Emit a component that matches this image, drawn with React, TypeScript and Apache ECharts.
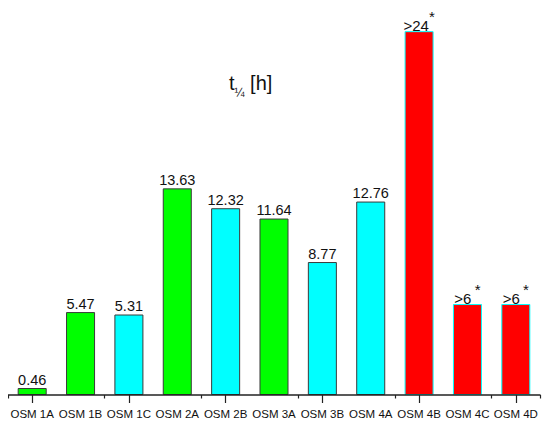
import React, { useEffect, useRef } from 'react'
import * as echarts from 'echarts'

const categories = ['OSM 1A', 'OSM 1B', 'OSM 1C', 'OSM 2A', 'OSM 2B', 'OSM 3A', 'OSM 3B', 'OSM 4A', 'OSM 4B', 'OSM 4C', 'OSM 4D']
const values = [0.46, 5.47, 5.31, 13.63, 12.32, 11.64, 8.77, 12.76, 24, 6, 6]
// value shown above bar; entries starting with '>' are lower bounds (marked with *)
const valueLabels = ['0.46', '5.47', '5.31', '13.63', '12.32', '11.64', '8.77', '12.76', '>24', '>6', '>6']
const groups = ['g', 'g', 'c', 'g', 'c', 'g', 'c', 'c', 'r', 'r', 'r']

const fillColors: Record<string, string> = { g: '#00ff00', c: '#00ffff', r: '#ff0000' }
const borderColors: Record<string, string> = { g: '#3a3a3a', c: '#3a3a3a', r: '#00ffff' }

const font = 'Arial, "Liberation Sans", sans-serif'
const gridBox = { left: 8, right: 10, top: 16, bottom: 36 }
const hiddenY = {
  type: 'value',
  max: 25,
  axisLine: { show: false },
  axisTick: { show: false },
  axisLabel: { show: false },
  splitLine: { show: false }
}

const mainOption = {
  animation: false,
  textStyle: { fontFamily: font },
  title: {
    text: '{t|t}{s|¼}{t| [h]}',
    left: 224,
    top: 68,
    textStyle: {
      fontWeight: 'normal',
      rich: {
        t: { fontSize: 20, color: '#111', fontWeight: 'normal', lineHeight: 26, verticalAlign: 'top' },
        s: { fontSize: 12, color: '#111', fontWeight: 'normal', lineHeight: 14, verticalAlign: 'bottom' }
      }
    }
  },
  grid: gridBox,
  xAxis: {
    type: 'category',
    data: categories,
    axisLine: { show: false },
    axisTick: { show: false },
    axisLabel: { color: '#111', fontSize: 11.5, margin: 13, interval: 0 }
  },
  yAxis: hiddenY,
  series: [
    {
      type: 'bar',
      barWidth: '60%',
      data: values.map((v, i) => ({
        value: v,
        itemStyle: {
          color: fillColors[groups[i]],
          borderColor: borderColors[groups[i]],
          borderWidth: 1
        },
        label: valueLabels[i].startsWith('>') ? { distance: -2 } : undefined
      })),
      label: {
        show: true,
        position: 'top',
        distance: 1,
        formatter: (p: any) => {
          const t = valueLabels[p.dataIndex]
          if (t.startsWith('>')) {
            return t === '>24' ? `{a|${t}}{s|*}` : `{a|${t}} {s|*}`
          }
          return `{b|${t}}`
        },
        rich: {
          b: { fontSize: 14.5, color: '#111' },
          a: { fontSize: 15, color: '#111', lineHeight: 24, verticalAlign: 'bottom' },
          s: { fontSize: 15, color: '#111', lineHeight: 16, verticalAlign: 'top' }
        }
      }
    }
  ]
}

// axis line with the long ticks under each category
const axisOption = {
  animation: false,
  grid: gridBox,
  xAxis: {
    type: 'category',
    data: categories,
    axisLine: { show: true, onZero: false, lineStyle: { color: '#222', width: 1.5 } },
    axisTick: { show: true, alignWithLabel: true, length: 8, lineStyle: { color: '#222', width: 1.2 } },
    axisLabel: { show: false }
  },
  yAxis: hiddenY,
  series: []
}

// short ticks on the category boundaries
const minorTickOption = {
  animation: false,
  grid: gridBox,
  xAxis: {
    type: 'category',
    data: categories,
    axisLine: { show: false, onZero: false },
    axisTick: { show: true, length: 3.5, lineStyle: { color: '#222', width: 1.2 } },
    axisLabel: { show: false }
  },
  yAxis: hiddenY,
  series: []
}

const layer: React.CSSProperties = { position: 'absolute', left: 0, top: 0, width: 550, height: 431 }

const ChartLayer: React.FC<{ option: any; overlay?: boolean }> = ({ option, overlay }) => {
  const chartRef = useRef<HTMLDivElement>(null)

  useEffect(() => {
    if (!chartRef.current) return
    const chart = echarts.init(chartRef.current, undefined, { renderer: 'svg' })
    chart.setOption(option)
    return () => {
      chart.dispose()
    }
  }, [option])

  return <div ref={chartRef} style={{ ...layer, pointerEvents: overlay ? 'none' : 'auto' }} />
}

const App: React.FC = () => (
  <div style={{ position: 'relative', width: 550, height: 431, margin: -8, background: '#fff' }}>
    <ChartLayer option={mainOption} />
    <ChartLayer option={axisOption} overlay />
    <ChartLayer option={minorTickOption} overlay />
  </div>
)

export default App
